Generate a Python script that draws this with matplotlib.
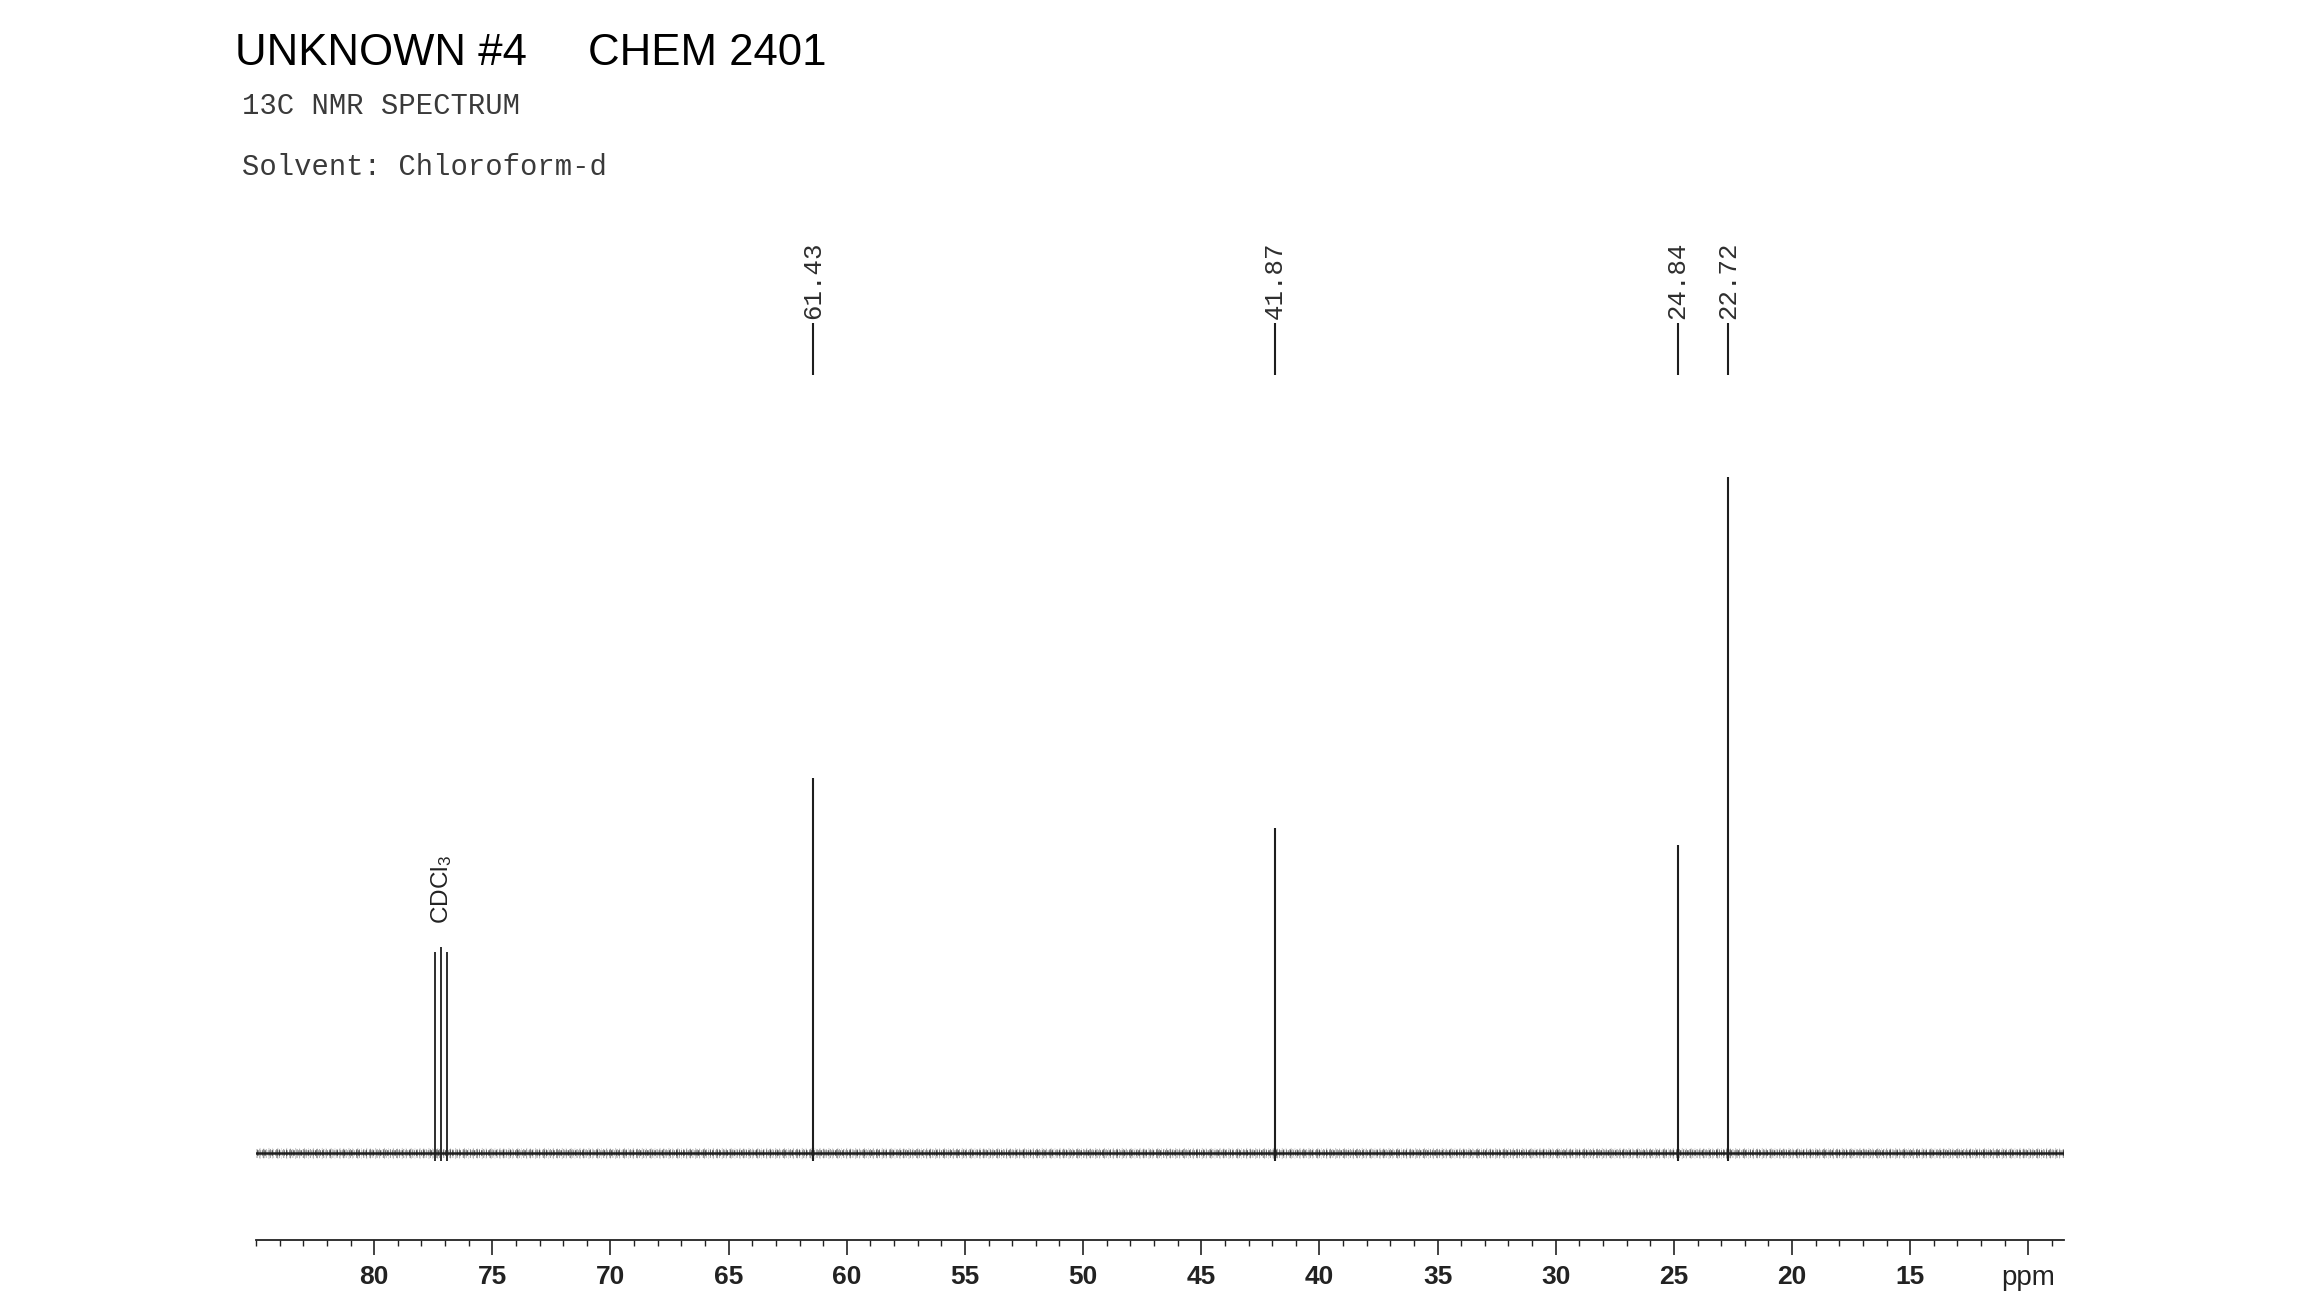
import matplotlib.pyplot as plt
from matplotlib.ticker import MultipleLocator, FuncFormatter

# Peak data (ppm, relative height with 22.72 = 100)
peak_ppm = [61.43, 41.87, 24.84, 22.72]
peak_height = [55.5, 48.0, 45.5, 100.0]
peak_labels = ['61.43', '41.87', '24.84', '22.72']

solvent_ppm = [77.42, 77.16, 76.90]
solvent_height = [29.7, 30.4, 29.7]

ppm_left, ppm_right = 85.0, 8.5
major_ticks = [80, 75, 70, 65, 60, 55, 50, 45, 40, 35, 30, 25, 20, 15, 10]

plt.rcParams['lines.scale_dashes'] = False
plt.rcParams['mathtext.default'] = 'regular'

fig = plt.figure(figsize=(23, 13.16), dpi=100)
ax = fig.add_axes([0.1113, 0.05775, 0.786, 0.7853])

ink = '#1e1e1e'

# Baseline: solid trace plus a few overlaid dash patterns for the ragged look
ax.plot([ppm_left, ppm_right], [0, 0], color=ink, lw=1.8, zorder=2)
ax.plot([ppm_left, ppm_right], [0, 0], color='#2a2a2a', lw=6.5, alpha=0.45,
        linestyle=(0, (0.8, 1.3, 0.5, 1.9, 1.2, 1.0, 0.6, 2.3)), zorder=2)
ax.plot([ppm_left, ppm_right], [0, 0], color='#1a1a1a', lw=4.0, alpha=0.7,
        linestyle=(0.7, (0.6, 0.9, 1.1, 1.4, 0.4, 0.8)), zorder=2)
ax.plot([ppm_left, ppm_right], [0, 0], color='#333333', lw=8.0, alpha=0.25,
        linestyle=(1.3, (0.4, 3.1, 0.7, 2.2)), zorder=2)

# Peaks
ax.vlines(peak_ppm, -1.2, peak_height, color=ink, lw=1.5, zorder=3)
ax.vlines(solvent_ppm, -1.2, solvent_height, color=ink, lw=1.3, zorder=3)

# Peak labels with short leader lines
for x, lab in zip(peak_ppm, peak_labels):
    ax.vlines(x, 115.1, 122.8, color=ink, lw=1.5)
    ax.text(x, 123.4, lab, rotation=90, ha='center', va='bottom',
            family='Liberation Mono', fontsize=18.5, color='#2e2e2e')

ax.text(solvent_ppm[1], 38.9, 'CDCl$_3$', rotation=90, ha='center', va='center',
        family='Liberation Sans', fontsize=17.5, color='#222222')

# Axis styling
ax.set_xlim(ppm_left, ppm_right)
ax.set_ylim(-12.9, 140)
for s in ['top', 'left', 'right']:
    ax.spines[s].set_visible(False)
ax.spines['bottom'].set_linewidth(1.3)
ax.spines['bottom'].set_color('#222222')
ax.set_yticks([])
ax.set_xticks(major_ticks)
ax.xaxis.set_minor_locator(MultipleLocator(1))
ax.xaxis.set_major_formatter(FuncFormatter(lambda v, p: 'ppm' if v == 10 else f'{v:.0f}'))
ax.tick_params(axis='x', which='major', length=11, width=1.2, pad=7, color='#222222')
ax.tick_params(axis='x', which='minor', length=4.5, width=1.0, color='#222222')
for t in ax.get_xticklabels():
    t.set_family(['Liberation Sans Narrow', 'Liberation Sans'])
    t.set_fontsize(19)
    t.set_weight('bold')
    t.set_color('#222222')
    if t.get_text() == 'ppm':
        t.set_weight('normal')
        t.set_fontsize(20)

# Header text
fig.text(235 / 2300, 1 - 65 / 1316, 'UNKNOWN #4', family='Liberation Sans',
         fontsize=31.5, va='baseline', ha='left', color='black')
fig.text(588 / 2300, 1 - 65 / 1316, 'CHEM 2401', family='Liberation Sans',
         fontsize=31.5, va='baseline', ha='left', color='black')
fig.text(242 / 2300, 1 - 106 / 1316, '13C NMR SPECTRUM', family='Liberation Mono',
         fontsize=20.8, va='center', ha='left', color='#3a3a3a')
fig.text(242 / 2300, 1 - 167 / 1316, 'Solvent: Chloroform-d', family='Liberation Mono',
         fontsize=20.8, va='center', ha='left', color='#3a3a3a')

plt.savefig('out.png', dpi=100)
